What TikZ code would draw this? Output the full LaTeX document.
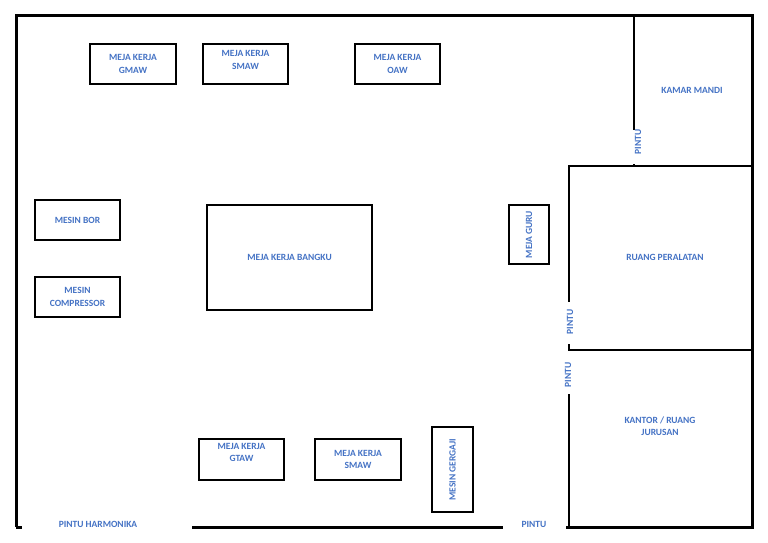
\documentclass[tikz,border=0pt]{standalone}
\usepackage{fontspec}
\setmainfont{Carlito}
\definecolor{labelblue}{HTML}{4472C4}
\begin{document}
\begin{tikzpicture}[x=1pt,y=-1pt,
	wall/.style={line width=3pt},
	thin wall/.style={line width=1.6pt},
	box/.style={draw, line width=1.6pt, labelblue, text=labelblue, font=\bfseries\fontsize{9.5}{12.5}\selectfont, align=center, inner sep=0pt},
	lbl/.style={text=labelblue, font=\bfseries\fontsize{9.5}{12.5}\selectfont, align=center}]
	\useasboundingbox (0,0) rectangle (768,543);
	% outer walls
	\draw[wall] (16,527) -- (16,16) -- (752,16) -- (752,527) -- (566,527);
	\draw[wall] (192,527) -- (503,527);
	\draw[wall] (16,527) -- (22,527);
	% rooms
	\draw[thin wall] (634,16) -- (634,130);
	\draw[thin wall] (634,164) -- (634,166) -- (752,166);
	\draw[thin wall] (634,166) -- (569,166) -- (569,302);
	\draw[thin wall] (569,344) -- (569,350) -- (752,350);
	\draw[thin wall] (569,394) -- (569,527);
	% furniture
	\tikzset{box/.append style={draw=black}}
	\node[box, minimum width=86pt, minimum height=40pt] (gmaw) at (133,64) {MEJA KERJA\\GMAW};
	\node[box, minimum width=85pt, minimum height=40pt] (smaw top) at (245.5,64) {MEJA KERJA\\SMAW\\[-4pt]};
	\node[box, minimum width=85pt, minimum height=40pt] (oaw) at (397.5,64) {MEJA KERJA\\OAW};
	\node[box, minimum width=85pt, minimum height=40pt] (bor) at (77.5,220) {MESIN BOR};
	\node[box, minimum width=85pt, minimum height=40pt] (compressor) at (77.5,297) {MESIN\\COMPRESSOR};
	\node[box, minimum width=165pt, minimum height=105pt] (bangku) at (289.5,257.5) {MEJA KERJA BANGKU};
	\node[box, minimum width=40pt, minimum height=59pt] (guru) at (529,234.5) {};
	\node[lbl, rotate=90] at (529,234.5) {MEJA GURU};
	\node[box, minimum width=85pt, minimum height=41pt] (gtaw) at (241.5,459.5) {MEJA KERJA\\GTAW\\[2pt]};
	\node[box, minimum width=86pt, minimum height=41pt] (smaw bottom) at (358,459.5) {MEJA KERJA\\SMAW};
	\node[box, minimum width=41pt, minimum height=85pt] (gergaji) at (452.5,469.5) {};
	\node[lbl, rotate=90] at (452.5,469.5) {MESIN GERGAJI};
	% labels
	\node[lbl] at (692,90) {KAMAR MANDI};
	\node[lbl] at (665,257) {RUANG PERALATAN};
	\node[lbl] at (660,426) {KANTOR / RUANG\\JURUSAN};
	\node[lbl, rotate=90] at (638,142) {PINTU};
	\node[lbl, rotate=90] at (570,322) {PINTU};
	\node[lbl, rotate=90] at (568,375) {PINTU};
	\node[lbl] at (534,524) {PINTU};
	\node[lbl] at (98,524) {PINTU HARMONIKA};
\end{tikzpicture}
\end{document}
